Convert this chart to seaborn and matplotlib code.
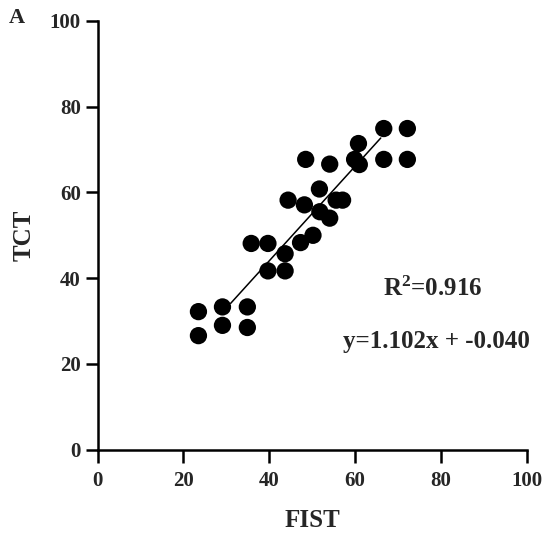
import matplotlib
matplotlib.use("Agg")
import matplotlib.pyplot as plt
import seaborn as sns
import numpy as np
import pandas as pd

fist = [23.5, 23.5, 29.1, 29.1, 34.9, 34.9, 35.8, 39.7, 39.7, 43.7, 43.7, 44.4,
        47.3, 48.2, 48.5, 50.2, 51.7, 51.8, 54.1, 54.1, 55.6, 57.1, 59.9, 60.8,
        61.0, 66.7, 66.7, 72.2, 72.2]
tct = [32.2, 26.6, 33.3, 29.0, 33.3, 28.5, 48.1, 48.1, 41.7, 41.7, 45.7, 58.2,
       48.3, 57.1, 67.7, 50.0, 60.8, 55.5, 54.0, 66.6, 58.2, 58.2, 67.7, 71.4,
       66.5, 74.9, 67.7, 74.9, 67.7]
slope = 1.102
intercept = -0.040
fit_x = [31.0, 66.0]
ticks = [0, 20, 40, 60, 80, 100]

sns.set_theme(style="ticks")
plt.rcParams['font.family'] = ['Liberation Serif', 'DejaVu Serif']
plt.rcParams['font.weight'] = 'bold'
plt.rcParams['mathtext.fontset'] = 'custom'
plt.rcParams['mathtext.rm'] = 'Liberation Serif:bold'
plt.rcParams['mathtext.it'] = 'Liberation Serif:bold'
plt.rcParams['mathtext.bf'] = 'Liberation Serif:bold'
plt.rcParams['mathtext.default'] = 'rm'

df = pd.DataFrame({"FIST": fist, "TCT": tct})
fit_df = pd.DataFrame({"x": fit_x, "y": [slope * v + intercept for v in fit_x]})

fig = plt.figure(figsize=(5.5, 5.36), dpi=100)
ax = fig.add_axes([0.1775, 0.161, 0.780, 0.800])

sns.lineplot(data=fit_df, x="x", y="y", ax=ax, color="black", linewidth=1.1, zorder=3)
sns.scatterplot(data=df, x="FIST", y="TCT", ax=ax, color="black", s=155,
                edgecolor="none", zorder=2)

ax.set_xlim(0, 100)
ax.set_ylim(0, 100)
ax.set_xticks(ticks)
ax.set_yticks(ticks)
ax.set_xticklabels([str(t) for t in ticks], fontsize=15, fontweight='bold')
ax.set_yticklabels([str(t) for t in ticks], fontsize=15, fontweight='bold')
ax.tick_params(axis='x', direction='out', length=9, width=1.8, color='black', pad=6)
ax.tick_params(axis='y', direction='out', length=9, width=1.8, color='black', pad=3)
for side in ["left", "bottom"]:
    ax.spines[side].set_linewidth(1.8)
    ax.spines[side].set_color("black")
sns.despine(ax=ax)

ax.set_xlabel("FIST", fontsize=18, fontweight='bold', labelpad=13)
ax.set_ylabel("TCT", fontsize=18, fontweight='bold', labelpad=10)

ax.text(78.0, 35.9, "R$^2$=0.916", fontsize=18, fontweight='bold',
        ha='center', va='baseline')
ax.text(79.0, 23.7, "y=1.102x + -0.040", fontsize=18, fontweight='bold',
        ha='center', va='baseline')

fig.text(0.031, 0.966, "A", fontsize=16, fontweight='bold', ha='center', va='center')

fig.savefig("out.png", dpi=100)
